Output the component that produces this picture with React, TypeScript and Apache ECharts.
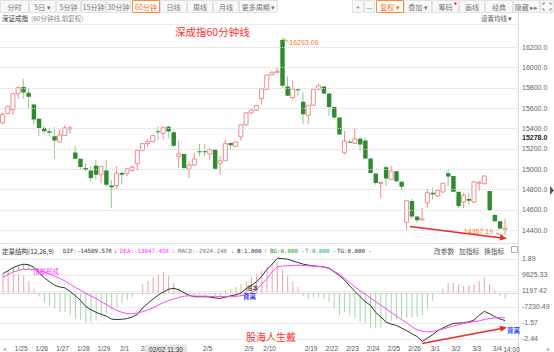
import React, { useEffect, useRef } from "react";
import * as echarts from "echarts";

// ---------- data ----------
const tradeDays = ["1/22","1/25","1/26","1/27","1/28","1/29","2/1","2/2","2/3","2/4","2/5","2/8","2/9","2/10","2/18","2/19","2/22","2/23","2/24","2/25","2/26","3/1","3/2","3/3","3/4"];
const barsPerDay = [4,4,4,4,4,4,4,4,4,4,4,4,4,4,4,4,4,4,4,4,4,4,4,4,2];
const barTimes = ["10:30","11:30","14:00","15:00"];
const shownDays = ["1/25","1/26","1/27","1/28","1/29","2/1","2/2","2/5","2/9","2/10","2/19","2/22","2/23","2/24","2/25","2/26","3/1","3/2","3/3","3/4"];

const opens = [15456,15549,15588,15743,15809,15753,15638,15496,15407,15374,
15325,15269,15331,15404,15166,15104,15012,14988,15035,14946,
14988,14840,14840,14962,14960,14990,15055,15186,15252,15272,
15374,15351,15417,15364,15127,15150,15002,15041,15177,15177,
15150,15193,15061,15084,15259,15226,15318,15437,15555,15582,
15694,15786,15930,15953,16272,15815,15706,15788,15663,15531,
15630,15788,15815,15745,15613,15508,15162,15271,15254,15300,
15284,15106,14958,14866,15020,14899,14981,14878,14479,14687,
14536,14502,14670,14769,14736,14776,14960,14934,14779,14677,
14707,14677,14862,14858,14786,14549,14489,14410];
const closes = [15539,15621,15743,15802,15756,15713,15489,15407,15374,15358,
15282,15338,15407,15407,15104,15021,14995,14913,14946,15028,
14847,14824,14962,14946,15005,15020,15185,15252,15272,15331,
15371,15413,15371,15232,15150,15012,15041,15101,15173,15170,
15193,15005,15084,15252,15236,15269,15437,15555,15582,15628,
15792,15927,15953,15963,15821,15722,15788,15778,15541,15630,
15788,15821,15745,15613,15508,15343,15277,15261,15300,15244,
15106,14964,14866,14870,14908,14981,14882,14829,14690,14536,
14499,14512,14769,14753,14792,14862,14928,14779,14638,14743,
14690,14875,14872,14934,14598,14489,14417,14420];
const lows = [15440,15539,15539,15694,15694,15595,15440,15325,15341,15325,
15104,15259,15330,15351,15100,14995,14980,14880,14896,14863,
14830,14616,14797,14850,14930,14975,14990,15175,15219,15265,
15282,15292,15305,15219,15012,14995,14913,15035,15127,15127,
15094,14995,14946,15080,15190,15222,15282,15425,15545,15575,
15638,15780,15920,15940,15795,15720,15689,15722,15442,15449,
15625,15775,15740,15524,15492,15340,15146,15258,15250,15179,
15100,14960,14849,14717,14833,14895,14878,14796,14407,14510,
14480,14498,14620,14703,14730,14770,14835,14775,14621,14621,
14650,14670,14786,14852,14588,14489,14407,14357.19];
const highs = [15560,15625,15753,15819,15891,15796,15640,15500,15423,15400,
15417,15391,15433,15430,15226,15104,15061,15028,15094,15030,
15094,14897,15028,14985,15015,15040,15190,15260,15298,15341,
15417,15423,15433,15370,15282,15150,15078,15160,15249,15249,
15209,15200,15127,15292,15262,15272,15445,15560,15598,15632,
15802,15934,15970,16002,16293.09,15913,15871,15790,15755,15632,
15790,15844,15818,15748,15615,15510,15376,15290,15403,15318,
15310,15106,14958,14882,15030,15030,14985,14882,14700,14710,
14536,14621,14809,14819,14797,14870,14993,14934,14779,14769,
14770,14880,14885,14940,14786,14560,14489,14512];

const macdHist = [8872,9730,10245,10245,9387,6298,2351,-1767,-4856,-6572,
-8288,-10004,-10004,-11720,-13436,-13951,-15667,-15667,-14637,-12578,
-10862,-8803,-7430,-5199,-3483,-2282,-223,4582,6298,8357,
9730,11103,9387,5440,2866,807,-909,-1081,-909,-738,
-1081,-1424,-1596,1150,2008,3209,4582,6298,8357,10073,
11789,14020,15736,16594,12304,8872,6298,3209,-1424,-3140,
-2282,-2282,-3140,-4856,-8288,-11720,-10004,-11720,-13436,-15152,
-16010,-18241,-18584,-18241,-16010,-14637,-13951,-13436,-12921,-12921,
-12578,-11720,-8288,-3998,-223,2351,5440,5440,4582,3724,
4239,4582,6298,8357,4582,1150,-1424,-2924.24];
const difValues = [10245,11789,13505,14535,15221,14878,13505,10588,8014,5955,
4067,3209,2694,807,-1424,-3998,-7087,-8803,-10176,-11205,
-12235,-13779,-13951,-13779,-13436,-12578,-11205,-7773,-5371,-3140,
-1081,635,2008,2523,1665,120,-1253,-1939,-1939,-1939,
-2111,-2625,-2797,-2111,-1424,-909,120,2351,4067,5955,
8872,12475,15221,18310,18138,17795,16937,16079,15221,14706,
14363,14020,13677,13162,11103,9215,6813,3724,807,-1939,
-4513,-6572,-10176,-12578,-15324,-16353,-17040,-18413,-19785,-21501,
-22874,-25448,-23732,-22016,-19785,-18413,-17040,-16010,-15839,-15667,
-15152,-14294,-11720,-9661,-10862,-12407,-13608,-14509.578];
const deaValues = [8357,9730,11103,11961,12475,12475,12304,11789,11103,10073,
8872,7671,6298,4582,2866,1493,-223,-1596,-2797,-4685,
-6057,-7773,-9146,-10176,-10862,-10862,-10519,-9833,-8803,-7773,
-6401,-5028,-3998,-3140,-2282,-1596,-1424,-1596,-1596,-1596,
-1767,-1767,-1767,-1939,-1939,-1767,-1424,-909,120,2008,
4582,7671,11103,13848,14191,14363,14535,14706,14535,14363,
14191,14020,13848,12818,11446,9730,7671,5440,3209,1150,
-566,-2625,-4513,-6401,-8288,-10176,-12063,-13951,-15667,-17726,
-19442,-20129,-20472,-20300,-19614,-18927,-18069,-17383,-16697,-16010,
-15495,-15152,-14637,-13951,-13436,-13093,-12921,-13047.458];
const stickBars = [0,1,2,3,4,5,45,46,47,48,49];

const priceTicks = [14400,14600,14800,15000,15200,15400,15600,15800,16000,16200];
const macdTickValues = [18053.24,9625.33,1197.42,-7230.49,-15658.4,-24086.31];
const macdTickLabels = ["1.89","9625.33","1197.42","-7230.49","-1.57","-2.44"];
const highBar = 54;
const lowBar = 97;

// ---------- helpers ----------
const CJK = '"Noto Sans CJK SC", "Noto Sans", sans-serif';
const NUM = '"Liberation Sans", Arial, sans-serif';
const MONO = '"DejaVu Sans Mono", monospace';

const categories: string[] = [];
tradeDays.forEach((d, k) => {
  for (let j = 0; j < barsPerDay[k]; j++) categories.push(d + " " + barTimes[j]);
});
categories.push("", "");

function txt(text: string, x: number, y: number, fill: string, size: number, o: any = {}) {
  const font = `${o.weight || "normal"} ${size}px ${o.family || CJK}`;
  return {
    type: "text", silent: true, z: 100,
    style: { text, x, y, fill, font, textAlign: o.align || "left", align: o.align || "left", textVerticalAlign: "middle", verticalAlign: "middle" },
  };
}
function hline(x1: number, x2: number, y: number, c: string) {
  return { type: "line", silent: true, z: 90, shape: { x1, y1: y, x2, y2: y }, style: { stroke: c, lineWidth: 1 } };
}
function vline(x: number, y1: number, y2: number, c: string) {
  return { type: "line", silent: true, z: 90, shape: { x1: x, y1, x2: x, y2 }, style: { stroke: c, lineWidth: 1 } };
}
function arrow(x1: number, y1: number, x2: number, y2: number, color: string, w: number, L = 7, W = 3) {
  const a = Math.atan2(y2 - y1, x2 - x1);
  const bx = x2 - L * Math.cos(a), by = y2 - L * Math.sin(a);
  const px = -Math.sin(a) * W, py = Math.cos(a) * W;
  return [
    { type: "line", silent: true, z: 110, shape: { x1, y1, x2: bx, y2: by }, style: { stroke: color, lineWidth: w } },
    { type: "polygon", silent: true, z: 110, shape: { points: [[x2, y2], [bx + px, by + py], [bx - px, by - py]] }, style: { fill: color } },
  ];
}
function tab(label: string, x0: number, x1: number, active = false) {
  return [
    { type: "rect", silent: true, z: 95, shape: { x: x0 + 0.5, y: 0.5, width: x1 - x0 - 1, height: 12 }, style: { fill: active ? "#fff" : "#f8f8f8", stroke: active ? "#ff8a3d" : "#e2e2e2", lineWidth: 1 } },
    txt(label, (x0 + x1) / 2, 6.8, active ? "#ff6a00" : "#777", 7, { align: "center" }),
  ];
}

export default function App() {
  const ref = useRef<HTMLDivElement>(null);
  useEffect(() => {
    document.body.style.margin = "0";
    const chart = echarts.init(ref.current!, null, { renderer: "svg", width: 554, height: 352 });

    const candleData = opens.map((o, i) => [i, o, closes[i], lows[i], highs[i]]);
    const stickData = stickBars.map((i) => [i, difValues[i], deaValues[i]]);

    const option: any = {
      animation: false,
      backgroundColor: "#fff",
      grid: [
        { left: 0, width: 518, top: 24.9, height: 220.6 },
        { left: 0, width: 518, top: 256, height: 88 },
      ],
      xAxis: [
        { type: "category", gridIndex: 0, data: categories, boundaryGap: true, show: false },
        {
          type: "category", gridIndex: 1, data: categories, boundaryGap: true,
          axisLine: { show: true, lineStyle: { color: "#dcdcdc" } },
          axisTick: { show: false },
          axisLabel: {
            interval: 0, margin: 3, color: "#555", fontSize: 6.5, fontFamily: NUM, padding: [0, 5, 0, 0],
            formatter: (v: string) => {
              const [d, t] = v.split(" ");
              return t === "10:30" && shownDays.includes(d) ? d : "";
            },
          },
        },
      ],
      yAxis: [
        { type: "value", gridIndex: 0, min: 14250, max: 16420, position: "right", axisLine: { show: false }, axisTick: { show: false }, axisLabel: { show: false }, splitLine: { show: false } },
        { type: "value", gridIndex: 1, min: -25785, max: 19520, position: "right", axisLine: { show: false }, axisTick: { show: false }, axisLabel: { show: false }, splitLine: { show: false } },
      ],
      series: [
        {
          type: "custom", name: "K", xAxisIndex: 0, yAxisIndex: 0, clip: true,
          encode: { x: 0, y: [1, 2, 3, 4] },
          data: candleData,
          renderItem: (params: any, api: any) => {
            const i = api.value(0);
            const o = api.value(1), c = api.value(2), l = api.value(3), h = api.value(4);
            const pO = api.coord([i, o]), pC = api.coord([i, c]);
            const pL = api.coord([i, l]), pH = api.coord([i, h]);
            const x = pO[0];
            const top = Math.min(pO[1], pC[1]);
            const bh = Math.max(Math.abs(pO[1] - pC[1]), 1);
            if (c >= o) {
              const col = "#f08c8c";
              return {
                type: "group",
                children: [
                  { type: "line", shape: { x1: x, y1: pH[1], x2: x, y2: top }, style: { stroke: col, lineWidth: 1 } },
                  { type: "line", shape: { x1: x, y1: top + bh, x2: x, y2: pL[1] }, style: { stroke: col, lineWidth: 1 } },
                  { type: "rect", shape: { x: x - 2, y: top, width: 4, height: bh }, style: { fill: "#fff", stroke: col, lineWidth: 1 } },
                ],
              };
            }
            return {
              type: "group",
              children: [
                { type: "line", shape: { x1: x, y1: pH[1], x2: x, y2: pL[1] }, style: { stroke: "#8fcb8f", lineWidth: 1 } },
                { type: "rect", shape: { x: x - 2, y: top, width: 4.4, height: bh }, style: { fill: "#2e8b2e" } },
              ],
            };
          },
          markLine: {
            silent: true, symbol: ["none", "none"], animation: false,
            lineStyle: { color: "#d6d6d6", type: "dotted", width: 1 },
            label: { show: true, position: "end", distance: 4, color: "#666", fontSize: 7, fontFamily: NUM, formatter: (p: any) => Number(p.value).toFixed(1) },
            data: priceTicks.map((v) => ({ yAxis: v })),
          },
        },
        {
          type: "bar", name: "MACD", xAxisIndex: 1, yAxisIndex: 1, barWidth: 1,
          data: macdHist.map((v) => ({ value: v, itemStyle: { color: v >= 0 ? "#f3a2a2" : "#a6d7a6" } })),
          markLine: {
            silent: true, symbol: ["none", "none"], animation: false,
            lineStyle: { color: "#d6d6d6", type: "dotted", width: 1 },
            label: { show: true, position: "end", distance: 4, color: "#666", fontSize: 7, fontFamily: NUM, formatter: "{b}" },
            data: macdTickValues.map((v, k) => ({ yAxis: v, name: macdTickLabels[k] })),
          },
        },
        {
          type: "custom", name: "sticks", xAxisIndex: 1, yAxisIndex: 1,
          data: stickData,
          renderItem: (params: any, api: any) => {
            const a = api.coord([api.value(0), api.value(1)]);
            const b = api.coord([api.value(0), api.value(2)]);
            return { type: "line", shape: { x1: a[0], y1: a[1], x2: b[0], y2: b[1] }, style: { stroke: "#7cc67c", lineWidth: 1 } };
          },
        },
        { type: "line", name: "DIF", xAxisIndex: 1, yAxisIndex: 1, data: difValues, symbol: "none", lineStyle: { color: "#333", width: 1 }, z: 5 },
        { type: "line", name: "DEA", xAxisIndex: 1, yAxisIndex: 1, data: deaValues, symbol: "none", lineStyle: { color: "#ff44ff", width: 1 }, z: 5 },
      ],
    };
    chart.setOption(option);

    const hp = chart.convertToPixel({ gridIndex: 0 } as any, [highBar, highs[highBar]]) as number[];
    const lp = chart.convertToPixel({ gridIndex: 0 } as any, [lowBar, lows[lowBar]]) as number[];

    const g: any[] = [];
    // toolbar
    [["分时",0,29],["5日 ▾",29,56],["5分钟",56,81],["15分钟",81,106],["30分钟",106,131],["60分钟",132,160,1],["日线",160,187],["周线",187,213],["月线",213,239],["更多周期 ▾",239,278],
     ["+",352,364],["—",364,375],["复权 ▾",376,404,1],["叠加 ▾",404,432],["筹码",432,459],["画线",459,485],["经典",485,513],["隐藏 ▸▸",513,540],["",540,554]]
      .forEach((t: any) => g.push(...tab(t[0], t[1], t[2], !!t[3])));
    g.push({ type: "circle", silent: true, z: 101, shape: { cx: 455.5, cy: 3.5, r: 1.2 }, style: { fill: "#ff2020" } });
    // fullscreen corners
    g.push({ type: "polyline", silent: true, z: 101, shape: { points: [[543, 5], [543, 3], [545, 3]] }, style: { stroke: "#888", fill: null } });
    g.push({ type: "polyline", silent: true, z: 101, shape: { points: [[549, 3], [551, 3], [551, 5]] }, style: { stroke: "#888", fill: null } });
    g.push({ type: "polyline", silent: true, z: 101, shape: { points: [[543, 8], [543, 10], [545, 10]] }, style: { stroke: "#888", fill: null } });
    g.push({ type: "polyline", silent: true, z: 101, shape: { points: [[549, 10], [551, 10], [551, 8]] }, style: { stroke: "#888", fill: null } });
    // second row
    g.push(txt("深证成指", 2, 18, "#333", 6.5));
    g.push(txt("(60分钟线,前复权)", 31, 18, "#888", 6.5));
    g.push(txt("设置均线 ▾", 481, 18, "#555", 6.5));
    g.push(hline(0, 518, 24.5, "#ececec"));
    g.push(vline(518.5, 13, 352, "#dedede"));
    // title
    g.push(txt("深成指60分钟线", 175, 31, "#ff3030", 10.5));
    // current value label
    g.push(txt("15278.0", 522, 137, "#222", 7, { family: NUM, weight: "bold" }));
    g.push({ type: "polygon", silent: true, z: 101, shape: { points: [[550, 186], [554, 190.5], [550, 195]] }, style: { fill: "#555" } });
    // high / low annotations
    g.push({ type: "line", silent: true, z: 101, shape: { x1: hp[0] + 1, y1: hp[1] + 1, x2: hp[0] + 6, y2: hp[1] + 4 }, style: { stroke: "#ff7a1a", lineWidth: 1 } });
    g.push(txt("16293.09", hp[0] + 7, hp[1] + 5, "#ff7a1a", 7, { family: NUM }));
    g.push(txt("14357.19", lp[0] - 12, lp[1] - 3, "#ff7a1a", 7, { family: NUM, align: "right" }));
    g.push({ type: "line", silent: true, z: 101, shape: { x1: lp[0] - 9, y1: lp[1] - 1.5, x2: lp[0] - 2, y2: lp[1] + 1 }, style: { stroke: "#ff7a1a", lineWidth: 1 } });
    // arrows
    g.push(...arrow(410, 226.5, 507, 238.5, "#f02828", 1.5));
    g.push(...arrow(422, 343.5, 507, 327.5, "#f02828", 1.5));
    // separator and MACD header
    g.push(hline(0, 518, 243.5, "#e2e2e2"));
    g.push(txt("定量结构(12,26,9)", 2, 250.5, "#333", 6.5));
    g.push(txt("DIF:-14509.578", 63, 250.5, "#333", 5.8, { family: MONO }));
    g.push(txt("↓", 114, 250.5, "#333", 6.5, { family: NUM }));
    g.push(txt("DEA:-13047.458", 120, 250.5, "#ff33ff", 5.8, { family: MONO }));
    g.push(txt("↓", 172, 250.5, "#ff33ff", 6.5, { family: NUM }));
    g.push(txt("MACD:-2924.240", 178, 250.5, "#777", 5.8, { family: MONO }));
    g.push(txt("↓", 231, 250.5, "#777", 6.5, { family: NUM }));
    g.push(txt("B:1.000", 237, 250.5, "#333", 5.8, { family: MONO }));
    g.push(txt("↑", 264, 250.5, "#ff2020", 6.5, { family: NUM }));
    g.push(txt("BG:0.000 -", 270, 250.5, "#1a9a1a", 5.8, { family: MONO }));
    g.push(txt("T:0.000 -", 305, 250.5, "#1a9a9a", 5.8, { family: MONO }));
    g.push(txt("TG:0.000 -", 337, 250.5, "#333", 5.8, { family: MONO }));
    g.push(txt("改参数", 434, 250.5, "#555", 6.8));
    g.push(txt("加指标", 459, 250.5, "#555", 6.8));
    g.push(txt("换指标", 484, 250.5, "#555", 6.8));
    g.push({ type: "rect", silent: true, z: 101, shape: { x: 511.5, y: 246.5, width: 6, height: 6 }, style: { fill: "#fff", stroke: "#999", lineWidth: 0.8 } });
    g.push(txt("×", 514.5, 249.7, "#666", 6, { family: NUM, align: "center" }));
    // MACD annotations
    g.push(txt("顶部形成", 33, 271, "#ff33ff", 6.5));
    g.push(txt("底本", 247, 288, "#222", 5.5));
    g.push(txt("背离", 243, 296, "#1a3cff", 6.5, { weight: "bold" }));
    g.push(txt("背离", 507, 330, "#1a3cff", 6.5, { weight: "bold" }));
    g.push(txt("股海人生戴", 246, 336.5, "#ff3030", 10));
    // bottom
    g.push(txt("«", 3, 349, "#888", 7, { family: NUM }));
    g.push(txt("»", 546, 349, "#888", 7, { family: NUM }));
    g.push({ type: "rect", silent: true, z: 100, shape: { x: 145, y: 344.5, width: 42, height: 8 }, style: { fill: "#e4e4e4" } });
    g.push(txt("02/02 11:30", 166, 349, "#333", 6.5, { family: NUM, align: "center" }));
    g.push(txt("14:00", 503.5, 349, "#555", 6.5, { family: NUM }));
    chart.setOption({ graphic: g });

    return () => chart.dispose();
  }, []);
  return <div ref={ref} style={{ position: "absolute", left: 0, top: 0, width: 554, height: 352, background: "#fff" }} />;
}
